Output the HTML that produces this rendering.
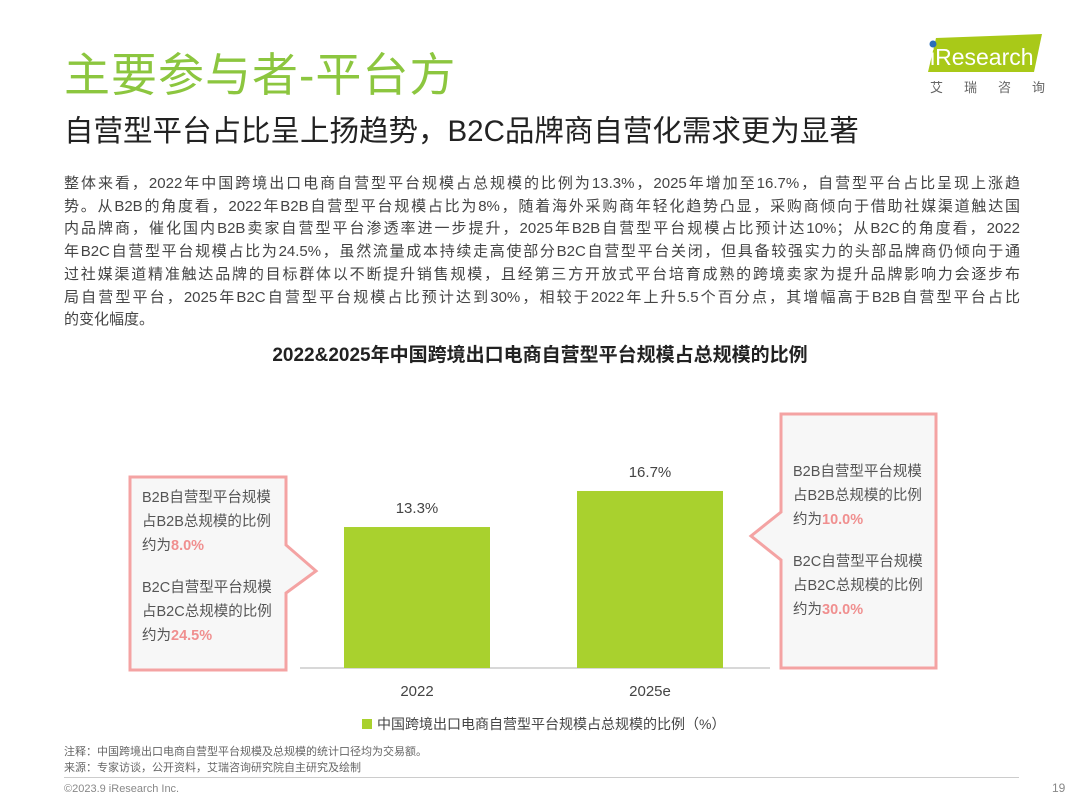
<!DOCTYPE html>
<html><head><meta charset="utf-8"><style>
body{margin:0;width:1080px;height:810px;background:#fff;position:relative;overflow:hidden;font-family:"Liberation Sans","Noto Sans CJK SC",sans-serif;color:#333}
.a{position:absolute}
#title{left:64px;top:46px;font-size:46px;line-height:58px;color:#8cc63f;letter-spacing:1px}
#sub{left:64px;top:112px;font-size:29.5px;line-height:40px;color:#222}
#body{left:64px;top:173px;width:956px;font-size:15px;line-height:22.7px;color:#444}
#body div{text-align:justify;text-align-last:justify;white-space:nowrap}
#body div.last{text-align-last:left}
#ctitle{left:0;width:1080px;top:340px;text-align:center;font-size:19px;font-weight:bold;color:#222}
.cb{font-size:14.5px;line-height:24px;color:#555}
.cb b{color:#f08f8f}
</style></head><body>
<div class="a" id="title">主要参与者-平台方</div>
<div class="a" id="sub">自营型平台占比呈上扬趋势，B2C品牌商自营化需求更为显著</div>
<div class="a" style="left:922px;top:30px;width:130px;height:66px">
<svg width="130" height="66"><polygon points="14,8 120,4 112,42 6,42" fill="#a9c918"/><circle cx="11" cy="14" r="3.5" fill="#2a6ebb"/><text x="8" y="35" font-size="23" fill="#fff" font-family="Liberation Sans">iResearch</text><text x="8" y="62" font-size="13" fill="#666" letter-spacing="21" font-family="Noto Sans CJK SC">艾瑞咨询</text></svg></div>
<div class="a" id="body">
<div>整体来看，2022年中国跨境出口电商自营型平台规模占总规模的比例为13.3%，2025年增加至16.7%，自营型平台占比呈现上涨趋</div>
<div>势。从B2B的角度看，2022年B2B自营型平台规模占比为8%，随着海外采购商年轻化趋势凸显，采购商倾向于借助社媒渠道触达国</div>
<div>内品牌商，催化国内B2B卖家自营型平台渗透率进一步提升，2025年B2B自营型平台规模占比预计达10%；从B2C的角度看，2022</div>
<div>年B2C自营型平台规模占比为24.5%，虽然流量成本持续走高使部分B2C自营型平台关闭，但具备较强实力的头部品牌商仍倾向于通</div>
<div>过社媒渠道精准触达品牌的目标群体以不断提升销售规模，且经第三方开放式平台培育成熟的跨境卖家为提升品牌影响力会逐步布</div>
<div>局自营型平台，2025年B2C自营型平台规模占比预计达到30%，相较于2022年上升5.5个百分点，其增幅高于B2B自营型平台占比</div>
<div class="last">的变化幅度。</div>
</div>
<div class="a" id="ctitle">2022&amp;2025年中国跨境出口电商自营型平台规模占总规模的比例</div>
<svg class="a" style="left:0;top:0" width="1080" height="810" id="chart">
<polygon points="130,477 286,477 286,545 316,571 286,593 286,670 130,670" fill="#f7f7f7" stroke="#f4a3a3" stroke-width="3"/>
<polygon points="781,414 936,414 936,668 781,668 781,560 751,536 781,512" fill="#f7f7f7" stroke="#f4a3a3" stroke-width="3"/>
<line x1="300" y1="668" x2="770" y2="668" stroke="#ccc" stroke-width="1.5"/>
<g id="bars"></g>
<rect x="362" y="719" width="10" height="10" fill="#a9d12e"/>
<text x="377" y="729" font-size="14" fill="#444">中国跨境出口电商自营型平台规模占总规模的比例（%）</text>
</svg>
<div class="a cb" style="left:142px;top:486px;width:140px">B2B自营型平台规模<br>占B2B总规模的比例<br>约为<b>8.0%</b><br><div style="height:18px"></div>B2C自营型平台规模<br>占B2C总规模的比例<br>约为<b>24.5%</b></div>
<div class="a cb" style="left:793px;top:460px;width:142px">B2B自营型平台规模<br>占B2B总规模的比例<br>约为<b>10.0%</b><br><div style="height:18px"></div>B2C自营型平台规模<br>占B2C总规模的比例<br>约为<b>30.0%</b></div>
<div class="a" style="left:64px;top:744px;font-size:11px;line-height:16px;color:#666">注释：中国跨境出口电商自营型平台规模及总规模的统计口径均为交易额。<br>来源：专家访谈，公开资料，艾瑞咨询研究院自主研究及绘制</div>
<div class="a" style="left:64px;top:777px;width:955px;height:1px;background:#ccc"></div>
<div class="a" style="left:64px;top:783px;font-size:11px;color:#888">©2023.9 iResearch Inc.</div>
<div class="a" style="left:1052px;top:781px;font-size:12px;color:#888">19</div>
<script>
const categories=["2022","2025e"];
const values=[13.3,16.7];
const valueLabels=["13.3%","16.7%"];
const base=668,scale=10.6,x0=344,step=233,bw=146;
const g=document.getElementById('bars');
const ns="http://www.w3.org/2000/svg";
function yOf(v){return base-v*scale;}
categories.forEach((c,i)=>{
 const x=x0+i*step;
 const r=document.createElementNS(ns,'rect');
 r.setAttribute('x',x);r.setAttribute('y',yOf(values[i]));r.setAttribute('width',bw);r.setAttribute('height',base-yOf(values[i]));r.setAttribute('fill','#a9d12e');
 
 
 g.appendChild(r);
 const t=document.createElementNS(ns,'text');
 t.setAttribute('x',x+bw/2);t.setAttribute('y',yOf(values[i])-14);t.setAttribute('text-anchor','middle');t.setAttribute('font-size','15');t.setAttribute('fill','#444');t.textContent=valueLabels[i];
 
 
 g.appendChild(t);
 const l=document.createElementNS(ns,'text');
 l.setAttribute('x',x+bw/2);l.setAttribute('y',base+28);l.setAttribute('text-anchor','middle');l.setAttribute('font-size','15');l.setAttribute('fill','#444');l.textContent=c;
 
 
 g.appendChild(l);
});
</script>
</body></html>
